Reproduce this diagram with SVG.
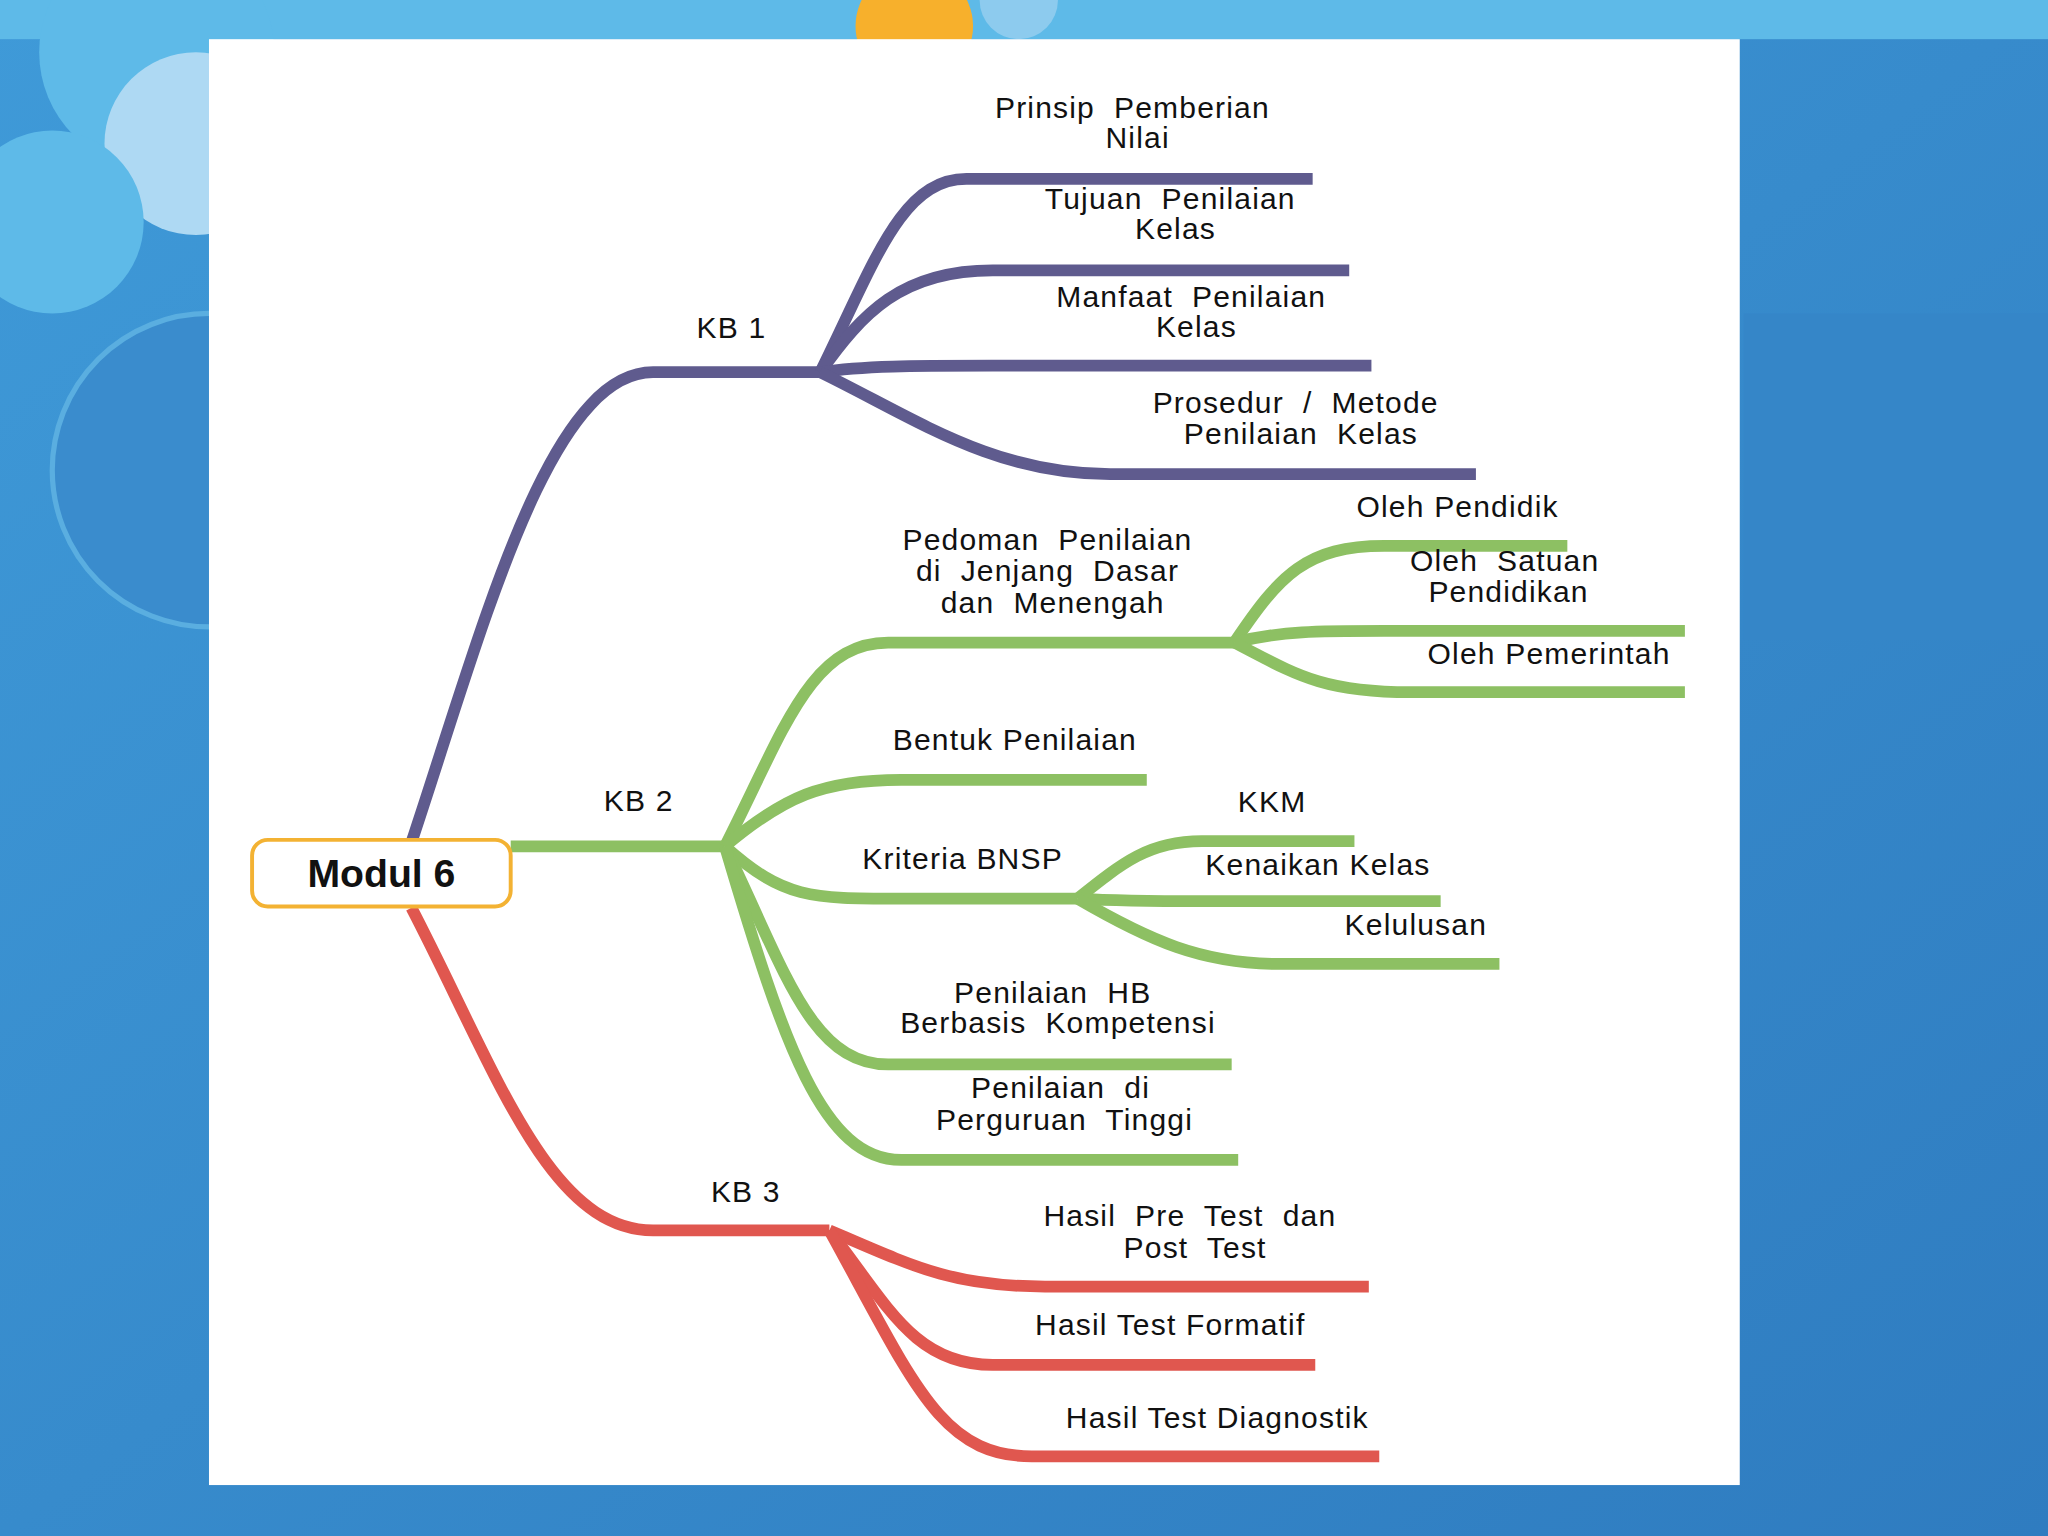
<svg xmlns="http://www.w3.org/2000/svg" width="2048" height="1536" viewBox="0 0 2048 1536">
<defs>
<linearGradient id="bg" x1="0" y1="0" x2="1" y2="1"><stop offset="0" stop-color="#3f9ad8"/><stop offset="1" stop-color="#2f7cc0"/></linearGradient>
<style>
.t{font-family:"Liberation Sans",Arial,sans-serif;font-size:23px;letter-spacing:0.9px;fill:#111;text-anchor:middle}
.p{fill:none;stroke:#5f5b8e;stroke-width:9;stroke-linecap:butt}
.g{fill:none;stroke:#8dc063;stroke-width:9}
.r{fill:none;stroke:#e0574f;stroke-width:9}
</style>
</defs>
<g transform="scale(1.30612)">
<rect width="1568" height="1176" fill="url(#bg)"/>
<rect x="1335" y="240" width="233" height="250" fill="#3586c8"/>
<rect width="1568" height="30" fill="#5ebae8"/>
<circle cx="160" cy="360" r="120" fill="#3a8ccd" stroke="#5aaee0" stroke-width="4"/>
<circle cx="700" cy="20" r="45" fill="#f7b02c"/>
<circle cx="120" cy="40" r="90" fill="#5ebae8"/>
<circle cx="150" cy="110" r="70" fill="#aed9f3"/>
<circle cx="40" cy="170" r="70" fill="#5ebae8"/>
<circle cx="780" cy="0" r="30" fill="#8dcbee"/>
<rect x="160" y="30" width="1172" height="1107" fill="#ffffff"/>
<g id="connectors">
<path class="p" d="M315 645 C370 480 420 285 500 285 L628 285"/>
<path class="p" d="M628 285 C670 200 690 137 740 137 L1005 137"/>
<path class="p" d="M628 285 C660 240 690 207 760 207 L1033 207"/>
<path class="p" d="M628 285 C660 280 700 280 760 280 L1050 280"/>
<path class="p" d="M628 285 C700 320 760 363 850 363 L1130 363"/>
<path class="g" d="M391 648 L555 648"/>
<path class="g" d="M555 648 C600 560 620 492 680 492 L945 492"/>
<path class="g" d="M945 492 C980 440 1000 418 1060 418 L1200 418"/>
<path class="g" d="M945 492 C980 483 1010 483 1060 483 L1290 483"/>
<path class="g" d="M945 492 C990 515 1010 530 1080 530 L1290 530"/>
<path class="g" d="M555 648 C600 610 630 597 690 597 L878 597"/>
<path class="g" d="M555 648 C600 688 620 688 690 688 L825 688"/>
<path class="g" d="M825 688 C860 660 880 644 920 644 L1037 644"/>
<path class="g" d="M825 688 C860 690 880 690 920 690 L1103 690"/>
<path class="g" d="M825 688 C880 720 920 738 980 738 L1148 738"/>
<path class="g" d="M555 648 C600 740 620 815 680 815 L943 815"/>
<path class="g" d="M555 648 C600 800 630 888 690 888 L948 888"/>
<path class="r" d="M315 695 C380 820 420 942 500 942 L635 942"/>
<path class="r" d="M635 942 C700 970 730 985 800 985 L1048 985"/>
<path class="r" d="M635 942 C680 1000 700 1045 760 1045 L1007 1045"/>
<path class="r" d="M635 942 C700 1060 720 1115 790 1115 L1056 1115"/>
</g>
<g id="modul6">
<rect x="193" y="643" width="198" height="51" rx="12" fill="#fff" stroke="#f3b233" stroke-width="3"/>
<text x="292" y="679" class="t" style="font-size:30px;font-weight:bold;letter-spacing:0">Modul 6</text>
</g>
<g id="labels">
<text class="t" x="560" y="259">KB 1</text>
<text class="t" x="489" y="621">KB 2</text>
<text class="t" x="571" y="920">KB 3</text>
<text class="t" x="867" y="90" xml:space="preserve">Prinsip  Pemberian</text><text class="t" x="871" y="113">Nilai</text>
<text class="t" x="896" y="160" xml:space="preserve">Tujuan  Penilaian</text><text class="t" x="900" y="183">Kelas</text>
<text class="t" x="912" y="235" xml:space="preserve">Manfaat  Penilaian</text><text class="t" x="916" y="258">Kelas</text>
<text class="t" x="992" y="316" xml:space="preserve">Prosedur  /  Metode</text><text class="t" x="996" y="340" xml:space="preserve">Penilaian  Kelas</text>
<text class="t" x="802" y="421" xml:space="preserve">Pedoman  Penilaian</text><text class="t" x="802" y="445" xml:space="preserve">di  Jenjang  Dasar</text><text class="t" x="806" y="469" xml:space="preserve">dan  Menengah</text>
<text class="t" x="1116" y="396">Oleh Pendidik</text>
<text class="t" x="1152" y="437" xml:space="preserve">Oleh  Satuan</text><text class="t" x="1155" y="461">Pendidikan</text>
<text class="t" x="1186" y="508">Oleh Pemerintah</text>
<text class="t" x="777" y="574">Bentuk Penilaian</text>
<text class="t" x="737" y="665">Kriteria BNSP</text>
<text class="t" x="974" y="622">KKM</text>
<text class="t" x="1009" y="670">Kenaikan Kelas</text>
<text class="t" x="1084" y="716">Kelulusan</text>
<text class="t" x="806" y="768" xml:space="preserve">Penilaian  HB</text><text class="t" x="810" y="791" xml:space="preserve">Berbasis  Kompetensi</text>
<text class="t" x="812" y="841" xml:space="preserve">Penilaian  di</text><text class="t" x="815" y="865" xml:space="preserve">Perguruan  Tinggi</text>
<text class="t" x="911" y="939" xml:space="preserve">Hasil  Pre  Test  dan</text><text class="t" x="915" y="963" xml:space="preserve">Post  Test</text>
<text class="t" x="896" y="1022">Hasil Test Formatif</text>
<text class="t" x="932" y="1093">Hasil Test Diagnostik</text>
</g>
</g>
</svg>
